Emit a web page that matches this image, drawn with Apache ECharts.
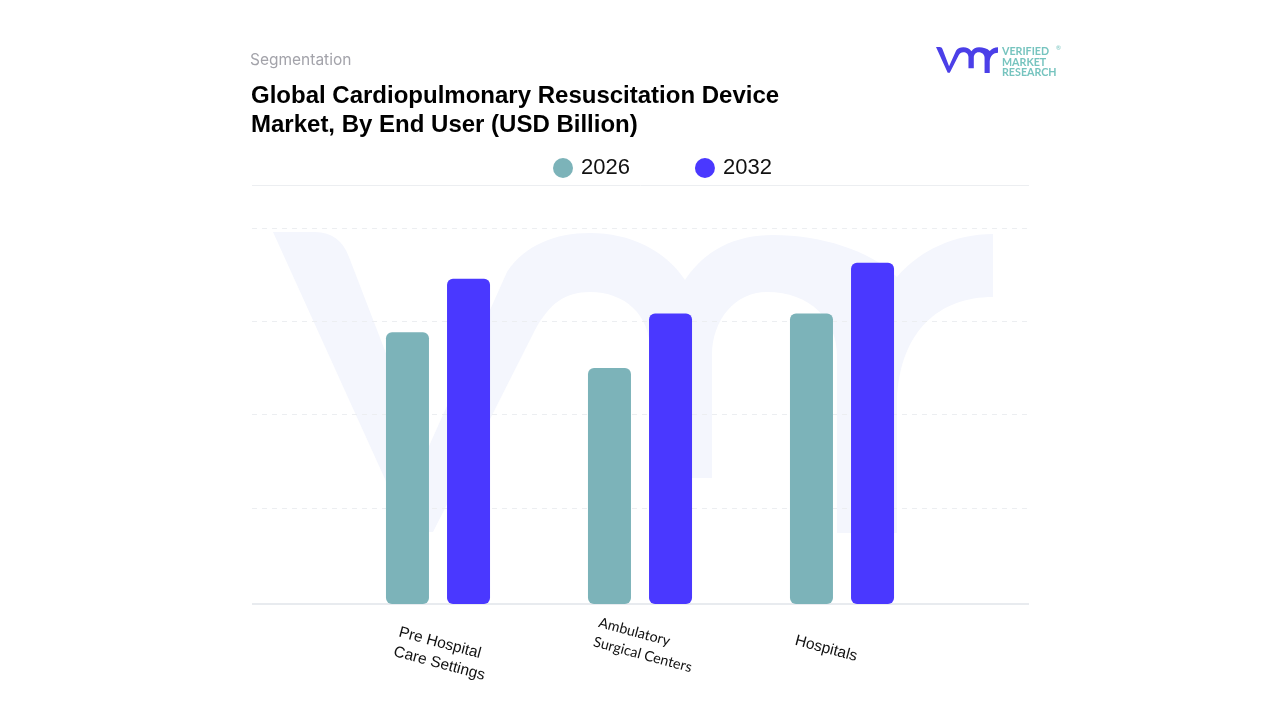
<!DOCTYPE html>
<html>
<head>
<meta charset="utf-8">
<title>Cardiopulmonary Resuscitation Device Market</title>
<script src="https://cdn.jsdelivr.net/npm/echarts@6/dist/echarts.min.js"></script>
<style>
    html, body { margin: 0; padding: 0; background: #fff; }
    #chart { width: 1280px; height: 720px; }
</style>
</head>
<body>
<div id="chart"></div>
<script>
// 数据
const categories = ['Pre Hospital\nCare Settings', 'Ambulatory\nSurgical Centers', 'Hospitals'];
const years = ['2026', '2032'];
const values2026 = [2.89, 2.51, 3.09];
const values2032 = [3.46, 3.09, 3.63];

const tealColor = '#7cb3b9';
const blueColor = '#4a38ff';
const gridColor = '#eceef1';
const sansFont = '"Liberation Sans", Arial, sans-serif';

// vmr 标志轮廓,水印和右上角 logo 共用
const vmrPath = 'M273 232 L315 232 C332 232 343 241 349 257 L425 455 L507 272 C525 245 555 233 590 233 '
    + 'C630 233 665 250 685 280 C705 250 735 235 773 235 C820 235 870 250 897 277 C920 250 955 234 993 234 '
    + 'L993 297 C940 297 900 330 897 400 L897 533 L837 533 L837 355 C837 320 810 292 767 292 '
    + 'C735 292 712 320 712 355 L712 478 L650 478 L650 350 C650 315 625 292 590 292 '
    + 'C565 292 550 303 535 330 L433 532 L409 532 Z';

// 用 custom 系列画标志
function logoSeries(rect, fill, z) {
    return {
        type: 'custom', xAxisIndex: 0, yAxisIndex: 0, z: z, silent: true, clip: false,
        data: [0], legendHoverLink: false, tooltip: { show: false },
        renderItem: function () {
            return {
                type: 'path',
                shape: { pathData: vmrPath, x: rect[0], y: rect[1], width: rect[2], height: rect[3] },
                style: { fill: fill }
            };
        }
    };
}

let chart = echarts.init(document.getElementById('chart'), null, { renderer: 'canvas' });

let option = {
    animation: false,
    backgroundColor: '#ffffff',
    title: [
        {
            text: 'Segmentation',
            left: 250, top: 52, padding: 0,
            textStyle: { fontFamily: 'Inter', fontSize: 15.5, fontWeight: 'normal', color: '#a3a3aa' }
        },
        {
            text: 'Global Cardiopulmonary Resuscitation Device\nMarket, By End User (USD Billion)',
            left: 251, top: 82, padding: 0,
            textStyle: { fontFamily: sansFont, fontSize: 24, fontWeight: 'bold', color: '#000000', lineHeight: 29 }
        }
    ],
    legend: {
        data: years,
        left: 553, top: 157, padding: 0,
        icon: 'circle',
        itemWidth: 20, itemHeight: 20,
        itemGap: 65,
        textStyle: { fontFamily: sansFont, fontSize: 22, color: '#111111', padding: [0, 0, 0, 3] }
    },
    // 第一个 grid 只画整宽的网格线,第二个 grid 放柱子
    grid: [
        { left: 252, width: 777, top: 228, height: 373 },
        { left: 337, width: 606, top: 228, height: 376 }
    ],
    xAxis: [
        {
            gridIndex: 0, type: 'category', data: [''],
            axisLine: { show: false }, axisTick: { show: false }, axisLabel: { show: false }
        },
        {
            gridIndex: 1, type: 'category',
            data: [
                { value: categories[0], textStyle: { align: 'center', verticalAlign: 'middle', padding: [0, 0, 0, 8] } },
                { value: categories[1], textStyle: { align: 'center', verticalAlign: 'middle', padding: [0, 0, 18, 6] } },
                { value: categories[2], textStyle: { align: 'center', verticalAlign: 'middle', padding: [0, 33, 0, 0] } }
            ],
            axisLine: { show: false }, axisTick: { show: false },
            axisLabel: {
                rotate: -15, margin: 49, interval: 0, align: 'center', verticalAlign: 'middle',
                // 多行标签左对齐,第二个类目字体不同
                formatter: function (value, index) {
                    let tag = index === 1 ? 'lato' : 'sans';
                    return value.split('\n').map(function (line) {
                        return '{' + tag + '|' + line + '}';
                    }).join('\n');
                },
                rich: {
                    sans: { align: 'left', fontFamily: sansFont, fontSize: 15.5, lineHeight: 20, color: '#111111' },
                    lato: { align: 'left', fontFamily: 'Lato', fontSize: 14.3, lineHeight: 20, color: '#111111' }
                }
            }
        }
    ],
    yAxis: [
        {
            gridIndex: 0, type: 'value', min: 0, max: 4, interval: 1,
            axisLine: { show: false }, axisTick: { show: false }, axisLabel: { show: false },
            splitLine: { show: true, showMinLine: false, lineStyle: { color: gridColor, type: [5, 5], width: 1 } }
        },
        {
            gridIndex: 1, type: 'value', min: 0, max: 4, interval: 1,
            axisLine: { show: false }, axisTick: { show: false }, axisLabel: { show: false },
            splitLine: { show: false }
        }
    ],
    series: [
        // 背景水印
        logoSeries([273, 232, 720, 301], '#f4f6fd', -1),
        {
            name: years[0], type: 'bar', xAxisIndex: 1, yAxisIndex: 1,
            data: values2026, barWidth: 43, barGap: '42%',
            itemStyle: { color: tealColor, borderRadius: 6 }
        },
        {
            name: years[1], type: 'bar', xAxisIndex: 1, yAxisIndex: 1,
            data: values2032, barWidth: 43, barGap: '42%',
            itemStyle: { color: blueColor, borderRadius: 6 }
        },
        // 右上角 logo
        logoSeries([936, 47, 62, 26], '#4b3fe8', 5)
    ],
    graphic: [
        // 图例下方的实线和底部基线
        { type: 'line', z: 1, shape: { x1: 252, y1: 185.5, x2: 1029, y2: 185.5 }, style: { stroke: gridColor, lineWidth: 1 } },
        { type: 'line', z: 1, shape: { x1: 252, y1: 604, x2: 1029, y2: 604 }, style: { stroke: '#e8ebef', lineWidth: 2 } },
        { type: 'text', x: 1002, y: 46, style: { text: 'VERIFIED', font: 'bold 10.7px Lato', fill: '#76c4bf' } },
        { type: 'text', x: 1002, y: 57, style: { text: 'MARKET', font: 'bold 10.7px Lato', fill: '#76c4bf' } },
        { type: 'text', x: 1002, y: 67, style: { text: 'RESEARCH', font: 'bold 10.7px Lato', fill: '#76c4bf' } },
        { type: 'text', x: 1056, y: 45, style: { text: '®', font: '6px Lato', fill: '#76c4bf' } }
    ]
};

chart.setOption(option);
</script>
</body>
</html>
